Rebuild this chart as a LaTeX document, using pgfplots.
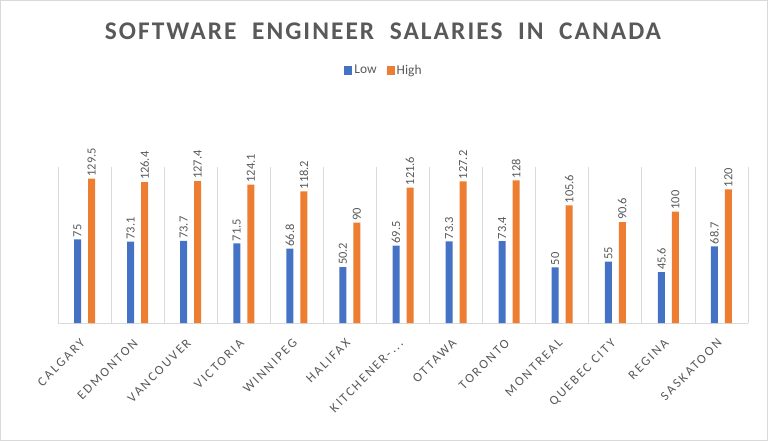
\documentclass[border=0pt]{standalone}
\usepackage{fontspec}
\setmainfont{Carlito}
\newfontfamily\titlefont[LetterSpace=8]{Carlito}
\newfontfamily\tickfont[LetterSpace=16]{Carlito}
\usepackage{pgfplots}
\pgfplotsset{compat=1.18}
\definecolor{lowblue}{HTML}{4472C4}
\definecolor{highorange}{HTML}{ED7D31}
\definecolor{txtgray}{HTML}{595959}
\definecolor{gridgray}{HTML}{D9D9D9}
\begin{document}
\begin{tikzpicture}
\useasboundingbox (0,0) rectangle (768bp,-441bp);
\draw[gridgray, line width=0.8bp] (0.5bp,-0.5bp) rectangle (767.5bp,-440.5bp);
\node[text=txtgray, font=\titlefont\bfseries\fontsize{25.5}{30}\selectfont] at (383bp,-31bp) {SOFTWARE\ \ ENGINEER\ \ SALARIES\ \ IN\ \ CANADA};
\begin{axis}[
    at={(58bp,-323bp)}, anchor=south west,
    scale only axis,
    width=690bp, height=156bp,
    ybar=7bp, bar width=7bp,
    xmin=-0.5, xmax=12.5,
    ymin=0, ymax=140,
    xtick={0,1,2,3,4,5,6,7,8,9,10,11,12},
    xticklabels={CALGARY,EDMONTON,VANCOUVER,VICTORIA,WINNIPEG,HALIFAX,{KITCHENER-.{}.{}.},OTTAWA,TORONTO,MONTREAL,QUEBEC CITY,REGINA,SASKATOON},
    x tick label style={rotate=45, anchor=north east, font=\tickfont\fontsize{13}{15}\selectfont, text=txtgray, inner sep=1bp, xshift=-13bp, yshift=-6bp},
    minor xtick={-0.5,0.5,1.5,2.5,3.5,4.5,5.5,6.5,7.5,8.5,9.5,10.5,11.5,12.5},
    minor x grid style={gridgray, line width=0.8bp},
    xminorgrids,
    major tick length=0pt, minor tick length=0pt,
    axis y line=none,
    axis x line*=bottom,
    x axis line style={gridgray, line width=0.8bp, -},
    ytick=\empty,
    /pgf/number format/assume math mode=true,
    nodes near coords,
    every node near coord/.append style={rotate=90, anchor=west, font=\fontsize{12.5}{14}\selectfont, text=txtgray, inner sep=2bp},
    legend columns=2,
    legend style={at={(0.4725,1.62)}, anchor=center, draw=none, fill=none, font=\fontsize{13.5}{15}\selectfont, text=txtgray,
        /tikz/every even column/.append style={column sep=8bp}},
    legend image code/.code={\fill[#1] (0bp,-4.5bp) rectangle (8bp,4.5bp);},
]
\addplot[fill=lowblue, draw=none] coordinates {
    (0,75) (1,73.1) (2,73.7) (3,71.5) (4,66.8) (5,50.2) (6,69.5)
    (7,73.3) (8,73.4) (9,50) (10,55) (11,45.6) (12,68.7)
};
\addlegendentry{Low}
\addplot[fill=highorange, draw=none] coordinates {
    (0,129.5) (1,126.4) (2,127.4) (3,124.1) (4,118.2) (5,90) (6,121.6)
    (7,127.2) (8,128) (9,105.6) (10,90.6) (11,100) (12,120)
};
\addlegendentry{High}
\end{axis}
\end{tikzpicture}
\end{document}
